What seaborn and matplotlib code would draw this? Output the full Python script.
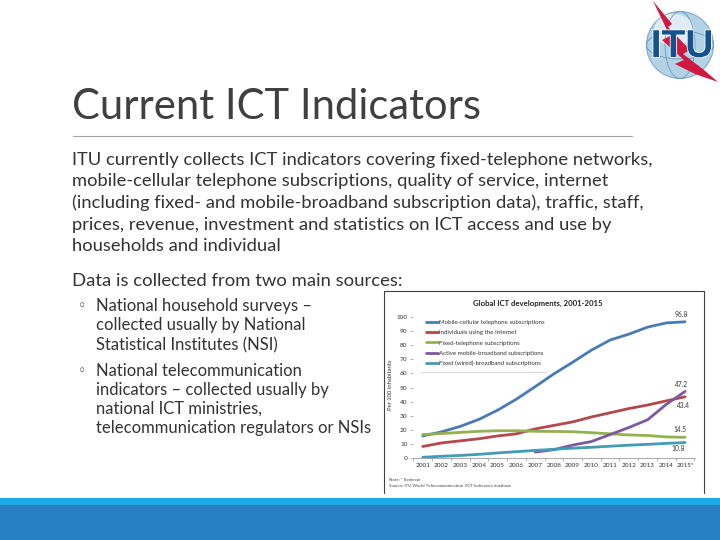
import numpy as np
import pandas as pd
import matplotlib
matplotlib.use('Agg')
import matplotlib.pyplot as plt
import matplotlib.patheffects as pe
from matplotlib.patches import Ellipse, Polygon, Rectangle
import seaborn as sns

# chart values
years = list(range(2001, 2016))
year_labels = ['2001', '2002', '2003', '2004', '2005', '2006', '2007', '2008',
               '2009', '2010', '2011', '2012', '2013', '2014', '2015*']
mobile_cellular = [15.5, 18.4, 22.3, 27.3, 33.9, 41.7, 50.6, 59.7, 68.0, 76.6, 83.8, 88.0, 93.0, 96.0, 96.8]
internet_users = [8.0, 10.5, 12.0, 13.5, 15.5, 17.0, 20.5, 23.0, 25.5, 29.0, 32.0, 35.0, 37.5, 40.5, 43.4]
fixed_telephone = [16.5, 17.2, 18.0, 18.8, 19.2, 19.2, 18.8, 18.7, 18.5, 17.8, 17.0, 16.2, 15.8, 14.8, 14.5]
mobile_broadband = [None, None, None, None, None, None, 4.0, 5.7, 9.0, 11.5, 16.5, 21.5, 27.0, 38.0, 47.2]
fixed_broadband = [0.3, 1.0, 1.6, 2.4, 3.4, 4.3, 5.2, 6.0, 6.8, 7.4, 8.2, 8.9, 9.5, 10.2, 10.8]

series_names = ['Mobile-cellular telephone subscriptions', 'Individuals using the Internet',
                'Fixed-telephone subscriptions', 'Active mobile-broadband subscriptions',
                'Fixed (wired)-broadband subscriptions']
series_values = [mobile_cellular, internet_users, fixed_telephone, mobile_broadband, fixed_broadband]
series_colors = ['#4a7ab5', '#b5484a', '#93b24f', '#7b5a9e', '#3f9db5']
end_labels = ['96.8', '43.4', '14.5', '47.2', '10.8']

title = 'Current ICT Indicators'
intro_lines = ['ITU currently collects ICT indicators covering fixed-telephone networks,',
               'mobile-cellular telephone subscriptions, quality of service, internet',
               '(including fixed- and mobile-broadband subscription data), traffic, staff,',
               'prices, revenue, investment and statistics on ICT access and use by',
               'households and individual']
sources_line = 'Data is collected from two main sources:'
bullet_lines = ['National household surveys \u2013', 'collected usually by National',
                'Statistical Institutes (NSI)', 'National telecommunication',
                'indicators \u2013 collected usually by', 'national ICT ministries,',
                'telecommunication regulators or NSIs']

sns.set_theme(style='white')
plt.rcParams['font.family'] = ['Lato', 'DejaVu Sans']

W, H = 720, 540
fig = plt.figure(figsize=(7.2, 5.4), dpi=100, facecolor='white')

# whole slide in pixel coordinates
bg = fig.add_axes([0, 0, 1, 1])
bg.set_xlim(0, W)
bg.set_ylim(H, 0)
bg.axis('off')

bg.add_patch(Rectangle((0, 498), W, 7, color='#1faae1', lw=0))
bg.add_patch(Rectangle((0, 505), W, 35, color='#2880c4', lw=0))
bg.plot([73, 632], [136, 136], color='#a6a6a6', lw=0.8)

bg.text(72.5, 107, title, fontsize=30.1, color='#404040', va='center', ha='left')
text_col = '#333333'
for txt, y in zip(intro_lines, [160, 181, 203, 225, 246]):
    bg.text(72, y, txt, fontsize=13.2, color=text_col, va='center')
bg.text(72, 281, sources_line, fontsize=13.3, color=text_col, va='center')
for txt, y in zip(bullet_lines, [306, 325, 345, 371, 390, 409, 428]):
    bg.text(95.5, y, txt, fontsize=11.95, color=text_col, va='center')
for y in [306, 371]:
    bg.text(78, y, '\u25e6', fontsize=10, color=text_col, va='center',
            family=['DejaVu Sans'])

# logo
bg.add_patch(Ellipse((680, 45), 67, 67, fc='#b4d2e6', ec='#7fabc9', lw=0.8))
bg.add_patch(Ellipse((674, 30), 40, 32, fc='#e6f0f7', ec='none', alpha=0.9))
bg.add_patch(Ellipse((680, 45), 30, 67, fc='none', ec='#5d90b6', lw=0.5))
bg.add_patch(Ellipse((680, 45), 67, 28, fc='none', ec='#5d90b6', lw=0.5))
bg.add_patch(Polygon([(653, 1), (672, 24), (668, 27), (690, 50), (683, 54), (704, 70), (718, 82),
                      (695, 74), (675, 64), (684, 60), (662, 40), (670, 36)],
                     fc='#d0193f', ec='none'))
bg.text(682, 47, 'ITU', fontsize=28, fontweight='black', color='#13518f', ha='center', va='center',
        family=['Liberation Sans', 'DejaVu Sans'],
        path_effects=[pe.withStroke(linewidth=1.2, foreground='white')])

# embedded chart frame
bg.plot([383.5, 383.5, 703.5, 703.5], [493, 291, 291, 493], color='#404040', lw=0.8)

ax = fig.add_axes([413 / W, 1 - 457.7 / H, (695 - 413) / W, (457.7 - 317.3) / H])
ax.patch.set_alpha(0)

rows = []
for name, vals in zip(series_names, series_values):
    rows.append(pd.DataFrame({'year': years, 'value': vals, 'series': name}))
df = pd.concat(rows, ignore_index=True)
df['value'] = df['value'].astype(float)

sns.lineplot(data=df, x='year', y='value', hue='series', hue_order=series_names,
             palette=series_colors, lw=2.0, ax=ax)

ax.set_xlim(2000.48, 2015.53)
ax.set_ylim(0, 100)
ax.set_xticks(years)
ax.set_xticklabels(year_labels)
ax.set_xticks(np.arange(2000.5, 2016, 1), minor=True)
ax.set_yticks(range(0, 101, 10))
ax.set_xlabel('')
ax.set_ylabel('Per 100 inhabitants', fontsize=4.2, color='#333333')
ax.yaxis.set_label_coords(-0.07, 0.52)
ax.tick_params(axis='x', which='major', length=0, labelsize=4.6, labelcolor='#333333', pad=4)
ax.tick_params(axis='x', which='minor', length=2, width=0.5, color='#999999', bottom=True)
ax.tick_params(axis='y', length=2, width=0.5, color='#999999', labelsize=4.6, labelcolor='#333333',
               pad=2, left=True)
for s in ['top', 'right', 'left']:
    ax.spines[s].set_visible(False)
ax.spines['bottom'].set_color('#999999')
ax.spines['bottom'].set_linewidth(0.6)

leg = ax.legend(loc='upper left', bbox_to_anchor=(0.028, 1.02), fontsize=4.4, frameon=False,
                handlelength=1.9, handletextpad=0.15, labelspacing=0.8, borderpad=0.4,
                labelcolor='#333333')
ax.plot([0.028, 0.475], [0.612, 0.612], transform=ax.transAxes, color='#c8c8c8', lw=0.5)

# end labels
offsets = {'96.8': (-2.4, 4.9), '43.4': (-1.4, -6.6), '14.5': (-3.6, 6), '47.2': (-2.4, 5.3), '10.8': (-5, -4)}
for name, vals, lab in zip(series_names, series_values, end_labels):
    ax.annotate(lab, (years[-1], vals[-1]), xytext=offsets[lab], textcoords='offset points',
                fontsize=4.8, color='#333333', ha='center', va='center')

bg.text(537.5, 303, 'Global ICT developments, 2001-2015', fontsize=5.55, fontweight='bold',
        color='#222222', ha='center', va='center')
bg.text(389, 479.7, 'Note: * Estimate', fontsize=3.15, color='#444444', va='center')
bg.text(389, 486, 'Source: ITU World Telecommunication /ICT Indicators database', fontsize=3.15,
        color='#444444', va='center')

fig.savefig('out.png', dpi=100, facecolor='white')
